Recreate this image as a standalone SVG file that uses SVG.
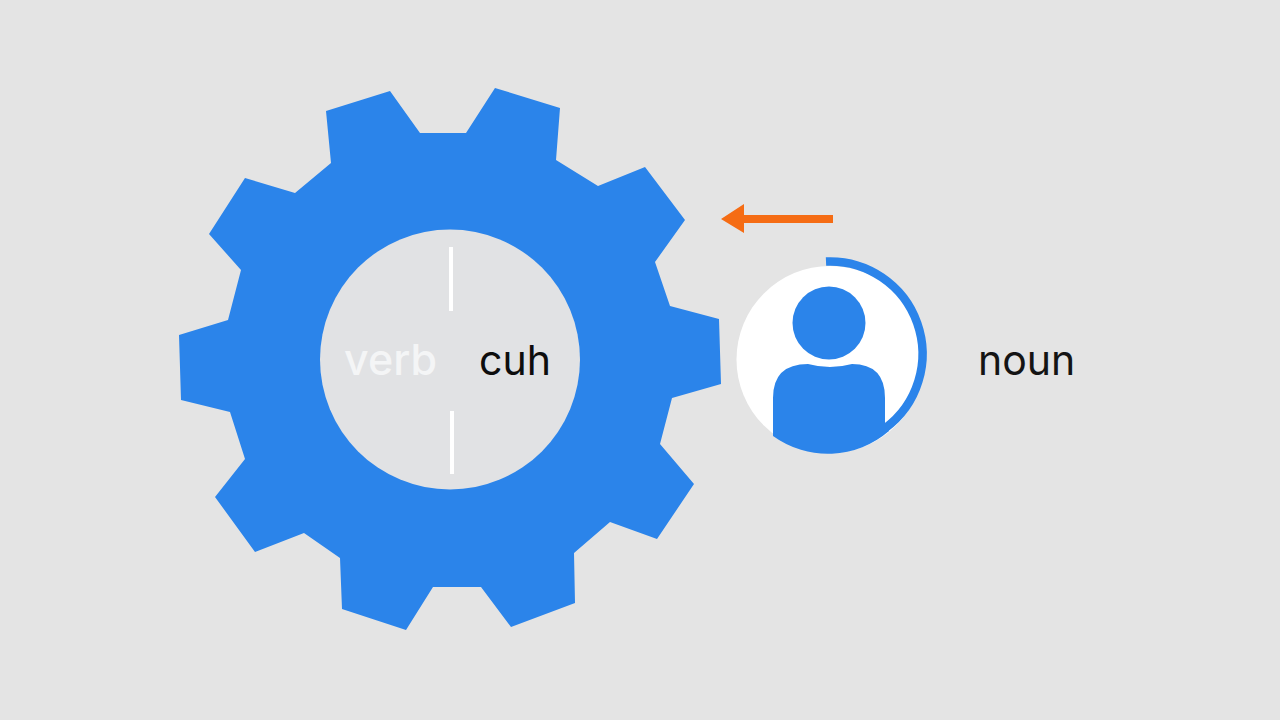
<svg xmlns="http://www.w3.org/2000/svg" width="1280" height="720" viewBox="0 0 1280 720">
<style>
.b{fill:#2b84ea}
.t{font-family:Inter,"Liberation Sans",Arial,sans-serif;font-size:41px}
</style>
<rect width="1280" height="720" fill="#e4e4e4"/>
<g id="gear">
<polygon class="b" points="420,133 466,133 495,88 560,108 556,160 598,186 645,167 685,220 655,262 670,306 719,319 721,384 672,398 660,444 694,484 657,539 610,522 574,553 575,603 511,627 481,587 433,587 406,630 342,609 340,558 304,533 255,552 215,497 245,459 230,412 181,400 179,335 228,320 241,270 209,234 245,178 295,193 331,163 326,111 390,91"/>
<circle cx="450" cy="359.500" r="130" fill="#e1e2e4"/>
<rect x="449" y="247" width="4" height="64" fill="#fff"/>
<rect x="450" y="411" width="4" height="63" fill="#fff"/>
<text class="t" x="344" y="374.500" fill="#f4f5f6" style="font-size:43px;font-weight:500">verb</text>
<text class="t" x="479" y="374.500" fill="#0d0d0d">cuh</text>
</g>
<g id="person">
<circle cx="830" cy="359.500" r="93.500" fill="#fff"/>
<path d="M826,261.600 A92.500 92.500 0 0 1 885,428.400" fill="none" stroke="#2b84ea" stroke-width="8.500"/>
<circle class="b" cx="829" cy="323" r="36.500"/>
<path class="b" d="M773,436 L773,398 Q773,364 808,364 Q830,370 852,364 Q885,364 885,398 L885,425 L889,431 A93.500 93.500 0 0 1 773,436 Z"/>
</g>
<g id="connectors">
<polygon points="721,219 744,204 744,215 833,215 833,223 744,223 744,233" fill="#f56c14"/>
</g>
<g id="label-noun">
<text class="t" x="978" y="374.500" fill="#141414">noun</text>
</g>
</svg>
